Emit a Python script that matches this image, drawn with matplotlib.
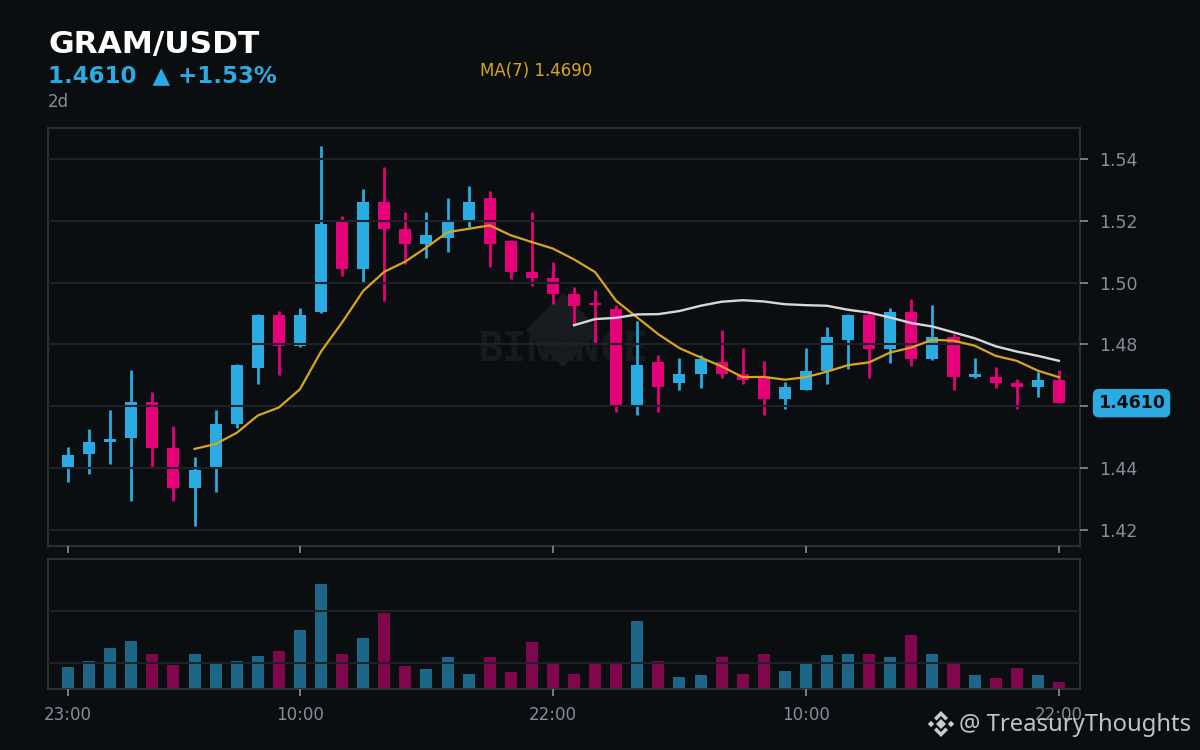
import numpy as np
import matplotlib
matplotlib.use("Agg")
import matplotlib.pyplot as plt
from matplotlib.patches import RegularPolygon, Polygon
from matplotlib.transforms import IdentityTransform, blended_transform_factory

# hourly candles, 48 of them (2d)
opens = [1.4396, 1.4444, 1.4486, 1.4496, 1.4614, 1.4466, 1.4334, 1.4397, 1.4544, 1.4725,
         1.4895, 1.4796, 1.4904, 1.5198, 1.5044, 1.5262, 1.5172, 1.5125, 1.5144, 1.5202,
         1.5272, 1.5133, 1.5033, 1.5014, 1.4962, 1.4933, 1.4914, 1.4605, 1.4743, 1.4676,
         1.4705, 1.4743, 1.4704, 1.4696, 1.4625, 1.4654, 1.4715, 1.4815, 1.4895, 1.4786,
         1.4904, 1.4754, 1.4824, 1.4696, 1.4695, 1.4675, 1.4663, 1.4685]
highs = [1.4468, 1.4527, 1.4588, 1.4717, 1.4646, 1.4537, 1.4435, 1.4588, 1.4737, 1.4898,
         1.4908, 1.4917, 1.5443, 1.5214, 1.5304, 1.5375, 1.5227, 1.5227, 1.5275, 1.5314,
         1.5295, 1.5137, 1.5227, 1.5066, 1.4985, 1.4975, 1.4927, 1.4875, 1.4766, 1.4756,
         1.4766, 1.4846, 1.4788, 1.4746, 1.4677, 1.4788, 1.4856, 1.4898, 1.4908, 1.4917,
         1.4946, 1.4927, 1.4833, 1.4756, 1.4727, 1.4688, 1.4712, 1.4717]
lows = [1.4355, 1.4382, 1.4412, 1.4292, 1.4401, 1.4292, 1.4212, 1.4323, 1.4531, 1.4673,
        1.4702, 1.4792, 1.4902, 1.5021, 1.5002, 1.4941, 1.5060, 1.5080, 1.5099, 1.5180,
        1.5051, 1.5012, 1.4989, 1.4931, 1.4863, 1.4802, 1.4583, 1.4573, 1.4583, 1.4651,
        1.4660, 1.4692, 1.4673, 1.4573, 1.4592, 1.4651, 1.4673, 1.4722, 1.4692, 1.4741,
        1.4731, 1.4751, 1.4651, 1.4692, 1.4660, 1.4592, 1.4631, 1.4610]
closes = [1.4443, 1.4485, 1.4495, 1.4614, 1.4466, 1.4334, 1.4395, 1.4543, 1.4733, 1.4895,
          1.4796, 1.4895, 1.5191, 1.5044, 1.5262, 1.5173, 1.5125, 1.5153, 1.5198, 1.5262,
          1.5125, 1.5034, 1.5015, 1.4963, 1.4925, 1.4926, 1.4596, 1.4733, 1.4663, 1.4704,
          1.4753, 1.4705, 1.4686, 1.4625, 1.4662, 1.4714, 1.4824, 1.4895, 1.4786, 1.4904,
          1.4754, 1.4824, 1.4696, 1.4704, 1.4676, 1.4663, 1.4685, 1.4610]
volumes = [0.43, 0.53, 0.78, 0.93, 0.68, 0.47, 0.68, 0.49, 0.53, 0.64,
           0.74, 1.14, 2.01, 0.68, 0.99, 1.47, 0.45, 0.39, 0.62, 0.28,
           0.62, 0.33, 0.91, 0.49, 0.29, 0.49, 0.51, 1.31, 0.54, 0.24,
           0.26, 0.62, 0.29, 0.68, 0.35, 0.51, 0.66, 0.68, 0.68, 0.62,
           1.04, 0.68, 0.51, 0.26, 0.22, 0.41, 0.26, 0.14]

ma7_start = 6
ma7 = [1.4462, 1.4478, 1.4514, 1.4570, 1.4596, 1.4655, 1.4777, 1.4871, 1.4973, 1.5035,
       1.5068, 1.5114, 1.5163, 1.5174, 1.5185, 1.5153, 1.5131, 1.5110, 1.5075, 1.5034,
       1.4941, 1.4887, 1.4833, 1.4788, 1.4758, 1.4729, 1.4694, 1.4695, 1.4686, 1.4694,
       1.4712, 1.4733, 1.4742, 1.4774, 1.4790, 1.4815, 1.4812, 1.4796, 1.4763, 1.4747,
       1.4715, 1.4694]
ma25_start = 24
ma25 = [1.4862, 1.4882, 1.4886, 1.4897, 1.4898, 1.4908, 1.4925, 1.4938, 1.4943, 1.4939,
        1.4930, 1.4927, 1.4925, 1.4912, 1.4903, 1.4887, 1.4869, 1.4858, 1.4839, 1.4820,
        1.4794, 1.4777, 1.4763, 1.4747]

last_price = 1.4610
change_pct = 1.53
ma7_last = 1.4690

time_ticks = [0, 11, 23, 35, 47]
time_labels = ["23:00", "10:00", "22:00", "10:00", "22:00"]
price_ticks = [1.42, 1.44, 1.46, 1.48, 1.50, 1.52, 1.54]

BG = "#0b0e11"
GRID = "#1e2228"
SPINE = "#2b3038"
UP = "#2aabe2"
DOWN = "#e6007a"
UP_VOL = "#1d6687"
DOWN_VOL = "#80074b"
GRAY = "#848e9c"
MA7_C = "#d9a51c"
MA25_C = "#d8d8dc"

o = np.array(opens)
h = np.array(highs)
l = np.array(lows)
c = np.array(closes)
x = np.arange(len(o))
up = c >= o

fig = plt.figure(figsize=(12, 7.5), dpi=100, facecolor=BG)
ax = fig.add_axes([48 / 1200, 1 - 546 / 750, 1032 / 1200, 418 / 750])
axv = fig.add_axes([48 / 1200, 1 - 689 / 750, 1032 / 1200, 130 / 750], sharex=ax)

for a in (ax, axv):
    a.set_facecolor(BG)
    a.set_axisbelow(False)
    for s in a.spines.values():
        s.set_color(SPINE)
        s.set_linewidth(1.5)
    a.grid(axis="y", color=GRID, linewidth=1.5)
    a.tick_params(axis="x", colors=GRAY, length=5, width=1.2, direction="out",
                  labelsize=12, labelcolor=GRAY, pad=7)

# watermark
ax.add_patch(RegularPolygon((563, 750 - 330), 4, radius=37, facecolor="#181b20",
                            edgecolor="none", transform=IdentityTransform(), zorder=0.3))
ax.text(0.499, 0.47, "BINANCE", transform=ax.transAxes, ha="center", va="center",
        fontsize=29, family="DejaVu Sans Mono", fontweight="bold", color="#171a1e", zorder=0.4)

# candles
cols = np.where(up, UP, DOWN)
body_lo = np.minimum(o, c)
body_h = np.maximum(np.abs(c - o), 0.0005)
ax.vlines(x, l, h, colors=cols, linewidth=2, zorder=1)
ax.bar(x, body_h, bottom=body_lo, width=0.57, color=cols, linewidth=0, zorder=1.2)

ax.plot(np.arange(ma7_start, ma7_start + len(ma7)), ma7, color=MA7_C, linewidth=1.6, zorder=3)
ax.plot(np.arange(ma25_start, ma25_start + len(ma25)), ma25, color=MA25_C, linewidth=1.7, zorder=3)

ax.set_xlim(-0.95, 48.0)
ax.set_ylim(1.4148, 1.5500)
ax.yaxis.tick_right()
ax.set_yticks(price_ticks)
# the 1.46 label sits under the last-price tag
ax.set_yticklabels(["" if abs(p - 1.46) < 1e-9 else f"{p:.2f}" for p in price_ticks])
ax.tick_params(axis="y", colors=GRAY, length=6, width=1.2, labelsize=12.5,
               labelcolor=GRAY, pad=8)
ax.tick_params(axis="x", labelbottom=False)

# last price tag
tr = blended_transform_factory(ax.transAxes, ax.transData)
ax.text(1.0175, last_price, f"{last_price:.4f}", transform=tr, ha="left", va="center",
        fontsize=12.5, fontweight="bold", color="#0b0e11", clip_on=False, zorder=10,
        bbox=dict(boxstyle="round,pad=0.3,rounding_size=0.35", fc=UP, ec="none"))

# volume
vcols = np.where(up, UP_VOL, DOWN_VOL)
axv.bar(x, volumes, width=0.57, color=vcols, linewidth=0, zorder=1)
axv.set_ylim(0, 2.5)
axv.set_yticks([0.5, 1.5])
axv.tick_params(axis="y", length=0, labelleft=False, labelright=False)
axv.set_xticks(time_ticks)
axv.set_xticklabels(time_labels)

# header
fig.text(48 / 1200, 1 - 44 / 750, "GRAM/USDT", ha="left", va="center", fontsize=22.5,
         fontweight="bold", color="white")
fig.text(48 / 1200, 1 - 76 / 750, f"{last_price:.4f}  \u25b2 +{change_pct:.2f}%", ha="left",
         va="center", fontsize=16.5, fontweight="bold", color=UP)
fig.text(48 / 1200, 1 - 102 / 750, "2d", ha="left", va="center", fontsize=12, color=GRAY)
fig.text(480 / 1200, 1 - 71 / 750, f"MA(7) {ma7_last:.4f}", ha="left", va="center",
         fontsize=12, color=MA7_C)

# credit with logo
lc = "#c9cdd2"
cx, cy = 941, 750 - 724
idt = IdentityTransform()
fig.add_artist(RegularPolygon((cx, cy), 4, radius=5, fc=lc, ec="none", transform=idt))
fig.add_artist(RegularPolygon((cx - 10, cy), 4, radius=3.2, fc=lc, ec="none", transform=idt))
fig.add_artist(RegularPolygon((cx + 10, cy), 4, radius=3.2, fc=lc, ec="none", transform=idt))
fig.add_artist(Polygon([(cx - 7, cy + 6), (cx, cy + 13), (cx + 7, cy + 6), (cx + 4.5, cy + 3.5),
                        (cx, cy + 8), (cx - 4.5, cy + 3.5)], closed=True, fc=lc, ec="none",
                       transform=idt))
fig.add_artist(Polygon([(cx - 7, cy - 6), (cx, cy - 13), (cx + 7, cy - 6), (cx + 4.5, cy - 3.5),
                        (cx, cy - 8), (cx - 4.5, cy - 3.5)], closed=True, fc=lc, ec="none",
                       transform=idt))
fig.text(959 / 1200, 1 - 725 / 750, "@ TreasuryThoughts", ha="left", va="center",
         fontsize=17.2, family="Noto Sans", color=lc, alpha=0.95)

fig.savefig("out.png", dpi=100, facecolor=BG)
